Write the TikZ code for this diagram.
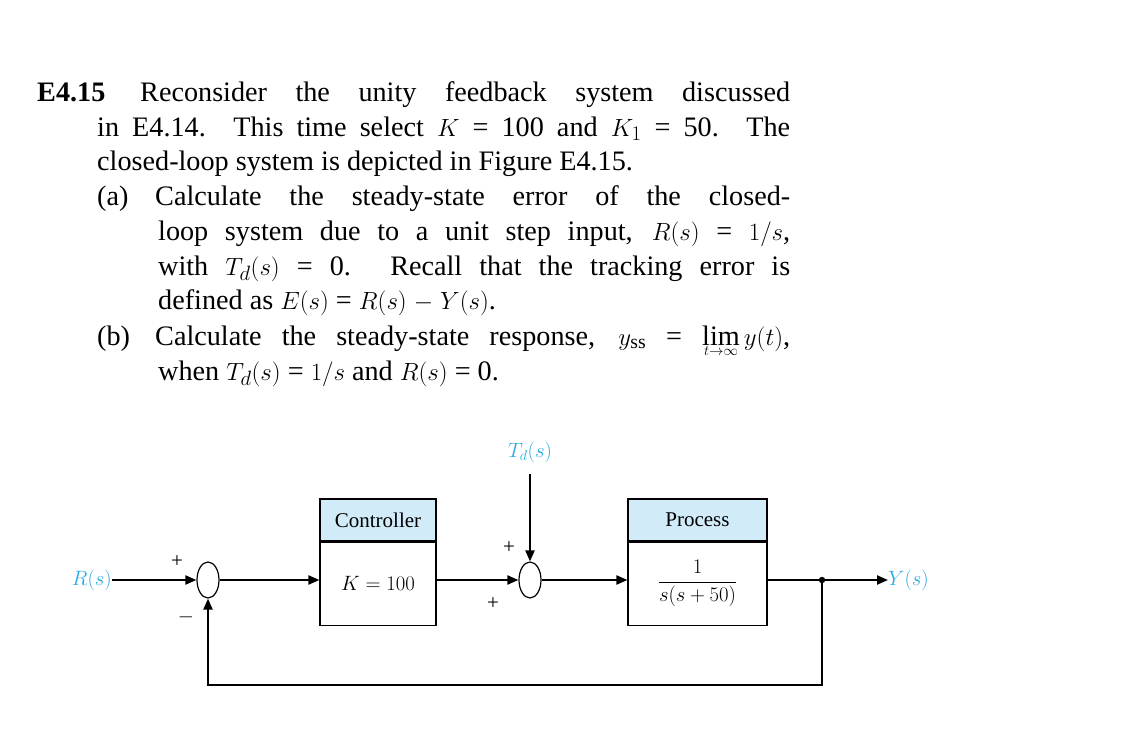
\documentclass[tikz,border=0pt]{standalone}
\usepackage{fontspec}
\setmainfont{Liberation Serif}
\usetikzlibrary{arrows.meta,shapes.geometric}
\definecolor{lblue}{RGB}{41,171,226}
\definecolor{hdr}{RGB}{209,236,248}
\begin{document}
\begin{tikzpicture}[x=1pt,y=-1pt,
 txt/.style={anchor=base west,inner sep=0pt,font=\fontsize{28.2}{30}\selectfont},
 lab/.style={inner sep=0pt,font=\fontsize{21}{24}\selectfont},
 sig/.style={lblue,inner sep=0pt,font=\fontsize{21}{24}\selectfont},
 sumj/.style={draw,ellipse,line width=1.2pt,minimum width=22pt,minimum height=36pt,inner sep=0pt},
 wire/.style={line width=2.2pt},
 arr/.style={wire,-{Triangle[length=11pt,width=9pt]}},
 hbox/.style={draw,line width=1.2pt,fill=hdr,minimum width=116pt,minimum height=42pt,inner sep=0pt},
 bbox/.style={draw,line width=1.2pt,minimum width=116pt,minimum height=83pt,inner sep=0pt}]
\useasboundingbox (0,0) rectangle (1127,736);
% text
\node[txt] (l1a) at (37,101) {\textbf{E4.15}};
\node[txt] (l1) at (140,101) {\makebox[650pt][s]{Reconsider the unity feedback system discussed}};
\node[txt] (l2) at (97,136) {\makebox[693pt][s]{in E4.14. This time select $K$ = 100 and $K_1$ = 50. The}};
\node[txt] (l3) at (97,170) {closed-loop system is depicted in Figure E4.15.};
\node[txt] (l4a) at (97,205) {(a)};
\node[txt] (l4) at (155,205) {\makebox[635pt][s]{Calculate the steady-state error of the closed-}};
\node[txt] (l5) at (158,240) {\makebox[632pt][s]{loop system due to a unit step input, $R(s)$ = $1/s$,}};
\node[txt] (l6) at (158,275) {\makebox[632pt][s]{with $T_d(s)$ = 0. Recall that the tracking error is}};
\node[txt] (l7) at (158,309) {defined as $E(s)$ = $R(s)$ $-$ $Y(s)$.};
\node[txt] (l8a) at (97,345) {(b)};
\node[txt] (l8) at (155,345) {\makebox[635pt][s]{Calculate the steady-state response, $y_{\mathrm{ss}}$ = $\lim\limits_{\scriptscriptstyle t\to\infty} y(t)$,}};
\node[txt] (l9) at (158,380) {when $T_d(s)$ = $1/s$ and $R(s)$ = 0.};
% diagram
\node[sumj] (s1) at (208,580) {};
\node[sumj] (s2) at (530,580) {};
\node[hbox] (ch) at (378,520) {};
\node[lab] at (ch) {Controller};
\node[bbox,anchor=north] (cb) at (ch.south) {};
\node[lab] at (cb) {$K = 100$};
\node[hbox,minimum width=139pt] (ph) at (697.5,520) {};
\node[lab] at (ph) {Process};
\node[bbox,minimum width=139pt,anchor=north] (pb) at (ph.south) {};
\node[lab] at (pb) {$\displaystyle\frac{1}{s(s+50)}$};
\node[sig,anchor=east] (R) at (112,580) {$R(s)$};
\node[sig,anchor=west] (Y) at (888,580) {$Y(s)$};
\node[sig] (Td) at (530,452) {$T_d(s)$};
\coordinate (td0) at (530,474);
\coordinate (br) at (822,580);
\coordinate (fb1) at (822,685);
\coordinate (fb2) at (208,685);
\draw[arr] (R) -- (s1);
\draw[arr] (s1) -- (cb.west|-s1);
\draw[arr] (cb.east|-s2) -- (s2);
\draw[arr] (s2) -- (pb.west|-s2);
\draw[arr] (pb.east|-br) -- (Y.west);
\draw[arr] (td0) -- (s2);
\draw[arr] (br) -- (fb1) -- (fb2) -- (s1);
\fill (br) circle (3.2pt);
\node[lab] (p1) at (177,562) {+};
\node[lab] (m1) at (186,617) {$-$};
\node[lab] (p2) at (509,548) {+};
\node[lab] (p3) at (493,604) {+};
\end{tikzpicture}
\end{document}
